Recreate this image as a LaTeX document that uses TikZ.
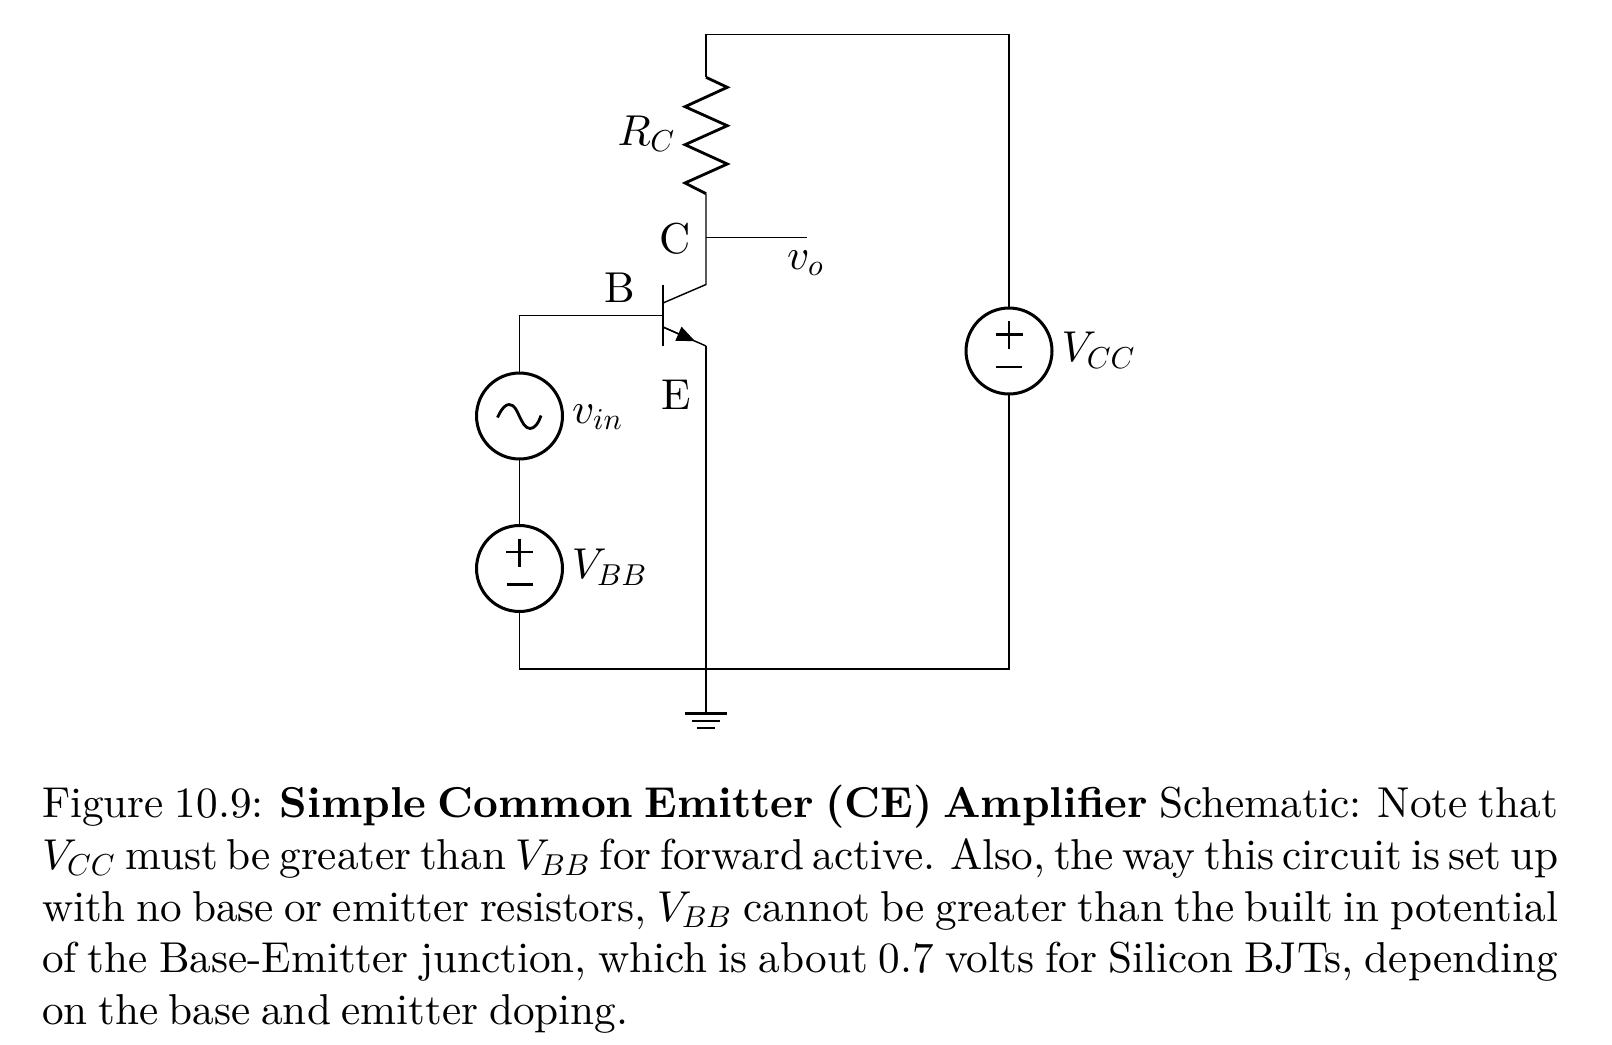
\documentclass[tikz,border=0pt]{standalone}
\usepackage{amsfonts}
\usetikzlibrary{arrows.meta}
\DeclareFontShape{OML}{cmm}{m}{it}{<->cmmi10}{}
\newcommand{\capline}[1]{\hbox to 351pt{\spaceskip=0.247em plus 0.3em minus 0.05em\relax #1}}
\tikzset{
  source/.style={circle,draw,line width=0.7pt,minimum size=19.9pt,inner sep=0pt,outer sep=0pt},
  label/.style={inner sep=0pt,outer sep=0pt},
  wire/.style={line width=0.33pt},
  part/.style={line width=0.65pt},
  sign/.style={line width=0.5pt}
}
\begin{document}
\begin{tikzpicture}[x=0.2315pt,y=-0.2315pt]
        \useasboundingbox (0,0) rectangle (1612,1044);

        \node[source] (vin) at (519.5,416) {};
        \node[source] (vbb) at (519.5,568.5) {};
        \node[source] (vcc) at (1009,351) {};

        \coordinate (topl)   at (706,34.6);
        \coordinate (topr)   at (1009,34.6);
        \coordinate (rtop)   at (706,77.3);
        \coordinate (rbot)   at (706,193.7);
        \coordinate (out)    at (706,237.5);
        \coordinate (outend) at (807,237.5);
        \coordinate (coll)   at (706,284.5);
        \coordinate (emit)   at (706,346);
        \coordinate (bartop) at (663,284.5);
        \coordinate (barbot) at (663,346);
        \coordinate (base)   at (663,315.3);
        \coordinate (colli)  at (663,303);
        \coordinate (emiti)  at (663,327);
        \coordinate (tip)    at (695,341.1);
        \coordinate (botl)   at (519.5,669);
        \coordinate (botm)   at (706,669);
        \coordinate (botr)   at (1009,669);
        \coordinate (gnd)    at (706,713.5);

        \begin{scope}[wire]
          \draw (vcc.north) -- (topr) -- (topl) -- (rtop);
          \draw (rbot) -- (coll) -- (colli);
          \draw (out) -- (outend);
          \draw (vin.north) |- (base);
          \draw (vin.south) -- (vbb.north);
          \draw (vbb.south) -- (botl) -- (botr) -- (vcc.south);
          \draw (emit) -- (gnd);
          \draw (emit) -- (emiti);
        \end{scope}

        \draw[-{Triangle[length=4.2pt,width=3.5pt]},wire] (emiti) -- (tip);
        \draw[part] (bartop) -- (barbot);

        \draw[part] (rtop) -- ++(21.3,10) -- ++(-42.3,19.4) -- ++(42.3,19) -- ++(-42.3,19)
          -- ++(42.3,19.3) -- ++(-42.3,19) -- (rbot);

        \draw[part] (497.5,417.5) .. controls (502,407.5) and (506,404.5) .. (509,404.5)
          .. controls (515,404.5) and (517,411.5) .. (519.5,416.5)
          .. controls (522,421.5) and (525,428.5) .. (530,428.5)
          .. controls (534,428.5) and (538,424.5) .. (541,415.5);

        \foreach \src in {vbb,vcc} {
          \draw[sign] (\src.center) ++(-13.5,-16.5) -- ++(27,0);
          \draw[sign] (\src.center) ++(0,-30) -- ++(0,28);
          \draw[sign] (\src.center) ++(-13,16) -- ++(26,0);
        }

        \draw[part] (gnd) ++(-21.4,0) -- ++(42.8,0);
        \draw[part] (706,721) ++(-14.3,0) -- ++(28.6,0);
        \draw[part] (706,728) ++(-8.6,0) -- ++(17.2,0);

        \begin{scope}[every node/.style={label}]
          \node (rc)   at (647,134)   {$R_C$};
          \node (c)    at (675,238.5) {C};
          \node (b)    at (620,288)   {B};
          \node (e)    at (676,395)   {E};
          \node (vo)   at (806,263)   {$v_o$};
          \node (lin)  at (598,417)   {$v_{in}$};
          \node (lbb)  at (610,567)   {$V_{BB}$};
          \node (lcc)  at (1099,350)  {$V_{CC}$};
        \end{scope}

        \node[label,anchor=north west,align=left] (caption) at (42,785)
          {\capline{Figure 10.9: \textbf{Simple Common Emitter (CE) Amplifier} Schematic: Note that}\\
          \capline{$V_{CC}$ must be greater than $V_{BB}$ for forward active. Also, the way this circuit is set up}\\
          \capline{with no base or emitter resistors, $V_{BB}$ cannot be greater than the built in potential}\\
          \capline{of the Base-Emitter junction, which is about 0.7 volts for Silicon BJTs, depending}\\
          \capline{on the base and emitter doping.\hfill}};

      \end{tikzpicture}
\end{document}
